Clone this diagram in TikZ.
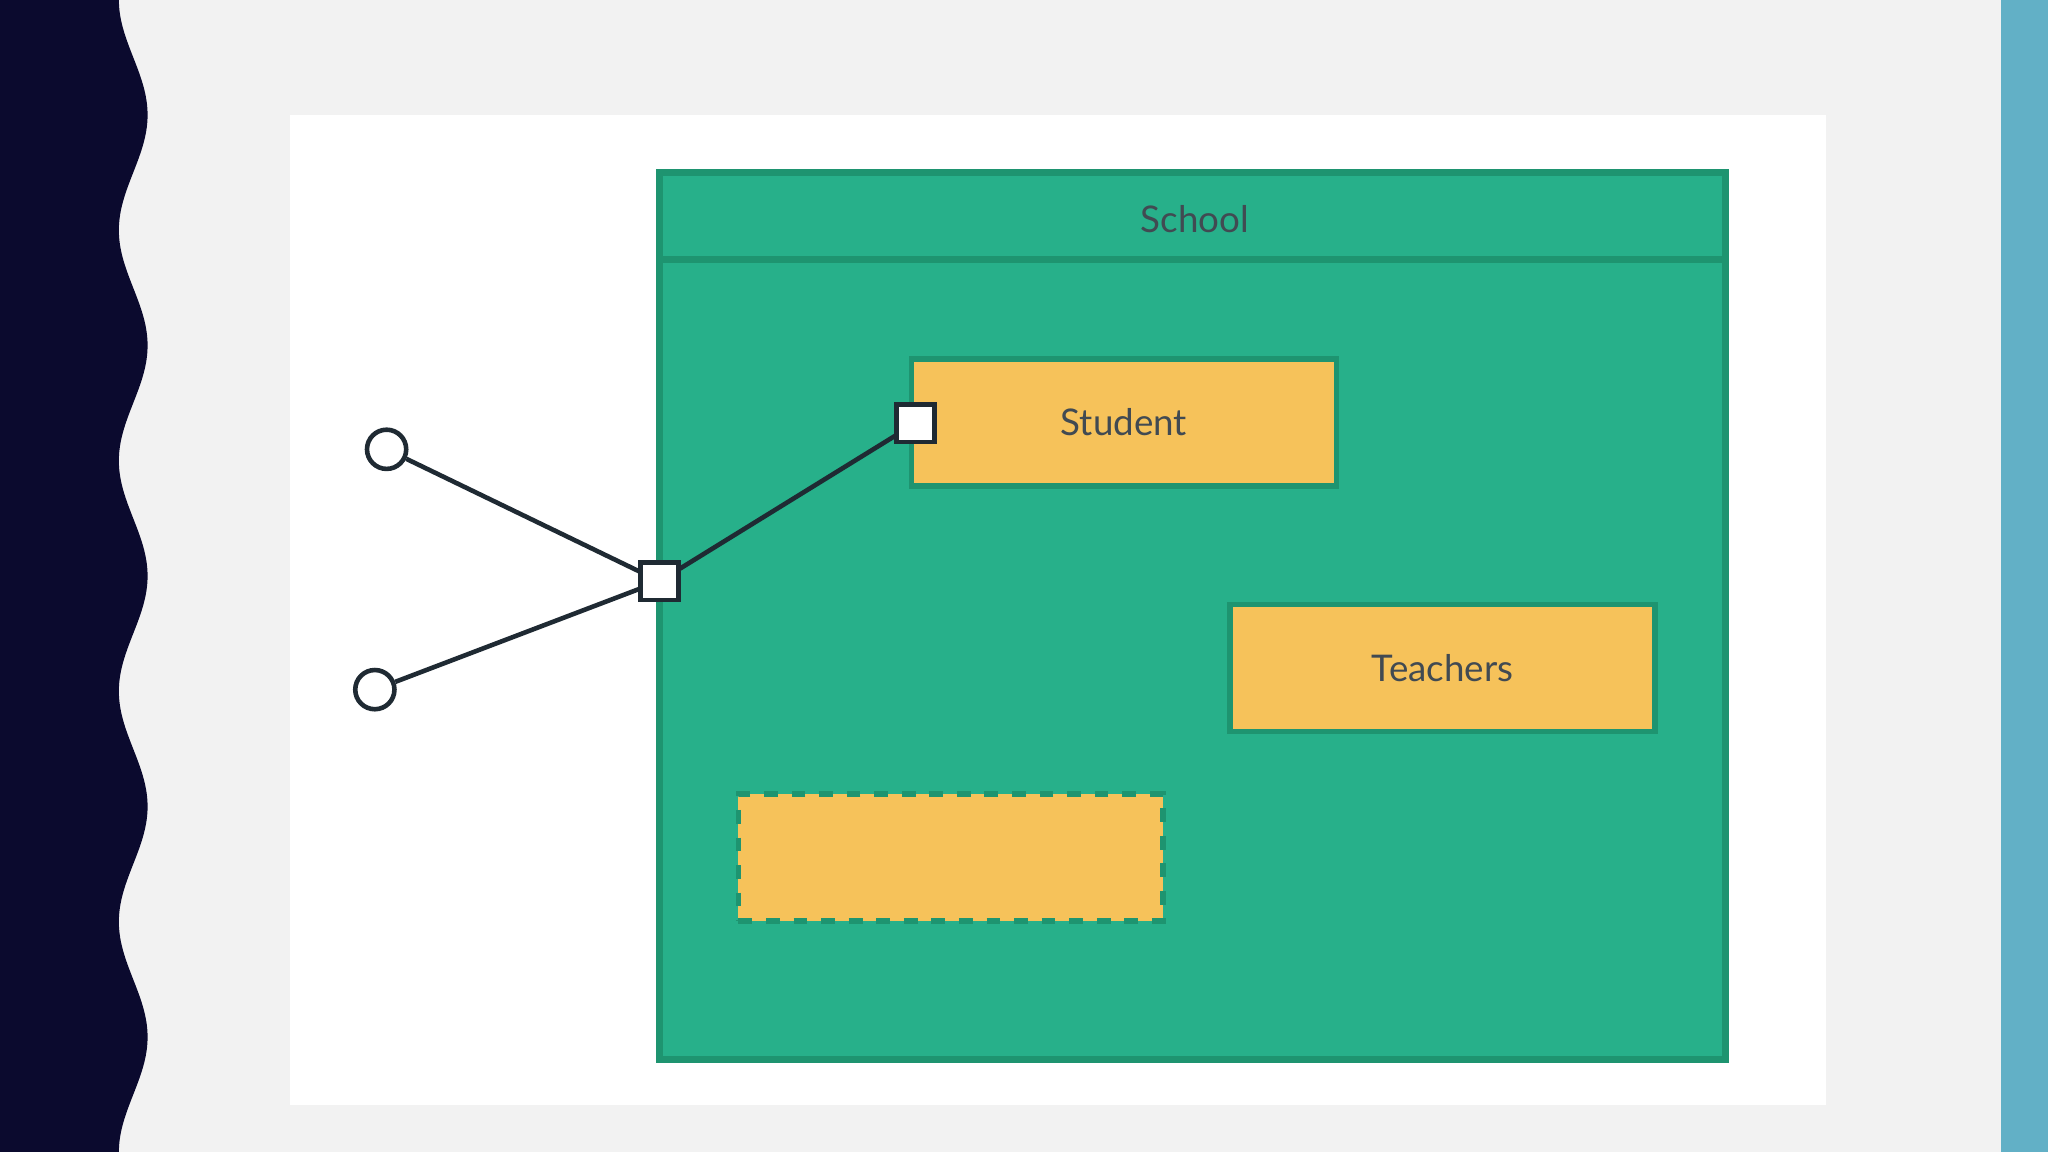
\documentclass[tikz,border=0pt]{standalone}
\usepackage{fontspec}
\setmainfont{Lato}
\definecolor{bg}{HTML}{F2F2F2}
\definecolor{navy}{HTML}{0B0A2E}
\definecolor{teal}{HTML}{62B0C6}
\definecolor{grn}{HTML}{27B08A}
\definecolor{grnd}{HTML}{1E9470}
\definecolor{org}{HTML}{F6C25A}
\definecolor{ink}{HTML}{1F2A33}
\tikzset{
  box/.style={draw=grnd,line width=1.2pt,fill=org,minimum width=3.25cm,minimum height=0.97cm,inner sep=0pt,font=\fontsize{8}{9}\selectfont,text=ink!85},
  port/.style={draw=ink,fill=white,line width=1pt,minimum size=0.29cm,inner sep=0pt},
  iface/.style={circle,draw=ink,fill=white,line width=1pt,minimum size=0.3cm,inner sep=0pt},
  conn/.style={draw=ink,line width=1pt}
}
\begin{document}
\begin{tikzpicture}[x=0.01cm,y=-0.01cm]
\useasboundingbox (0,0) rectangle (1568,882);
\fill[bg] (0,0) rectangle (1568,882);
\fill[navy] (0,0) -- plot[domain=0:882,samples=200,smooth] ({102+11*cos(2.0397*(\x-88))},\x) -- (0,882) -- cycle;
\fill[teal] (1532,0) rectangle (1568,882);
\fill[white] (222,88) rectangle (1398,846);
\draw[draw=grnd,line width=1.5pt,fill=grn] (505,132) rectangle (1321,811);
\draw[draw=grnd,line width=1.5pt] (505,199) -- (1321,199);
\node[font=\fontsize{8}{9}\selectfont,text=ink!85] (school) at (915,168) {School};
\node[box] (student) at (860.5,323.5) {Student};
\node[box] (teachers) at (1104.5,511.5) {Teachers};
\node[box,dashed] (blank) at (728,656.5) {};
\node[iface] (c1) at (296,344) {};
\node[iface] (c2) at (287,528) {};
\node[port] (p1) at (505,445) {};
\node[port] (p2) at (701,324) {};
\draw[conn] (c1) -- (p1.center);
\draw[conn] (c2) -- (p1.center);
\draw[conn] (p1.center) -- (p2.center);
\node[port] at (p1) {};
\node[port] at (p2) {};
\end{tikzpicture}
\end{document}
